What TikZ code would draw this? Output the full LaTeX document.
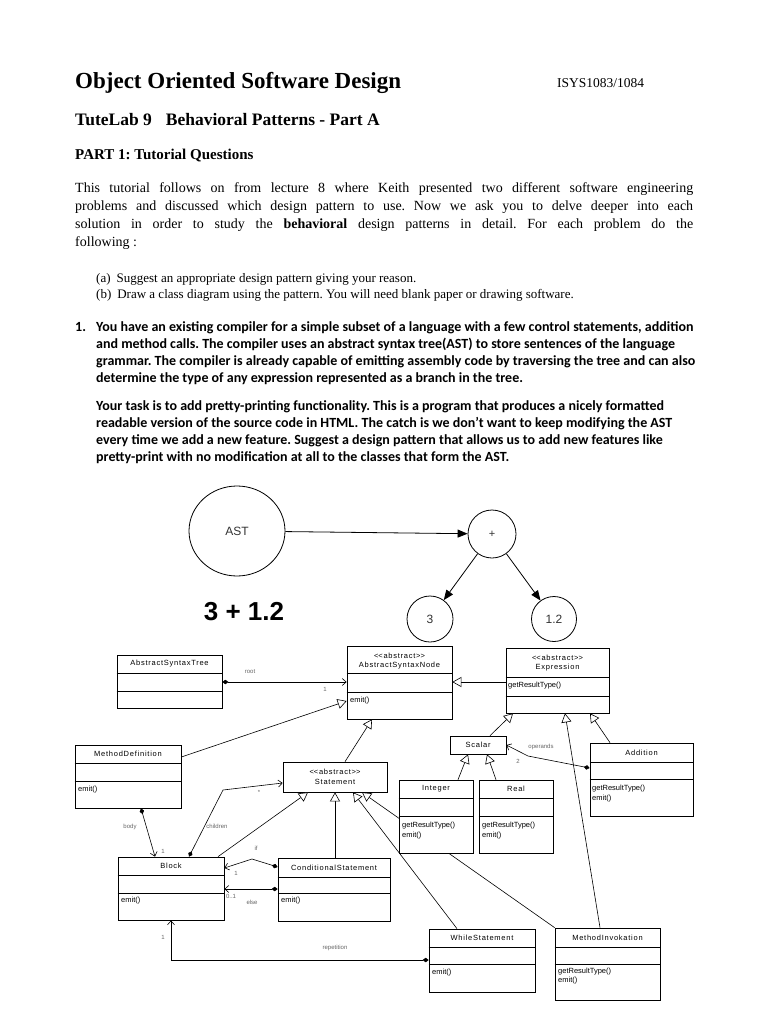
\documentclass[tikz,border=0pt]{standalone}
\usepackage{fontspec}
\setmainfont{Liberation Serif}
\newfontfamily\calfont{Carlito}
\newfontfamily\umlfont{Liberation Sans}
\newfontfamily\umltitlefont[LetterSpace=10]{Liberation Sans}
\usetikzlibrary{arrows.meta,shapes.geometric,calc}
\pgfdeclarelayer{background}
\pgfsetlayers{background,main}
\frenchspacing
\newcommand\umlcls[5]{\node[cls, minimum width={(#4-#2)*1pt}, minimum height={(#5-#3)*1pt}] (#1) at ({(#2+#4)/2},{(#3+#5)/2}) {};}
\newcommand\umldiv[2]{\draw[line width=0.7pt] (#1.west |- 0,#2) -- (#1.east |- 0,#2);}
\begin{document}
\begin{tikzpicture}[x=1pt,y=-1pt,
  cls/.style={draw, fill=white, line width=0.7pt, inner sep=0pt},
  ttl/.style={font=\umltitlefont\fontsize{7.5}{9}\selectfont, inner sep=0pt},
  mem/.style={font=\umlfont\fontsize{7.5}{9.5}\selectfont, inner sep=0pt, anchor=west, align=left},
  lbl/.style={font=\umlfont\fontsize{6}{7}\selectfont, text=black!60, inner sep=0pt},
  gen/.style={line width=0.6pt, -{Triangle[open,length=9pt,width=10pt,fill=white]}},
  compnav/.style={line width=0.6pt, {Diamond[length=6pt,width=4.5pt]}-{Straight Barb[length=4pt,width=7pt]}},
  nav/.style={line width=0.6pt, -{Straight Barb[length=4pt,width=7pt]}},
  tarrow/.style={line width=0.8pt, -{Triangle[length=10pt,width=8pt]}},
  tnode/.style={draw, line width=0.8pt, font=\umlfont\fontsize{12}{14}\selectfont, text=black!80},
  serif/.style={anchor=base west, inner sep=0pt},
  qline/.style={anchor=base west, inner sep=0pt, font=\calfont\bfseries\fontsize{14}{16}\selectfont}
]
\begin{pgfonlayer}{background}
\fill[white] (0,0) rectangle (768,1024);
\end{pgfonlayer}
\useasboundingbox (0,0) rectangle (768,1024);

% ---------- header ----------
\node[serif, font=\bfseries\fontsize{23}{26}\selectfont] (title) at (75,89) {Object Oriented Software Design};
\node[serif, font=\fontsize{13.5}{16}\selectfont] (code) at (557,88) {ISYS1083/1084};
\node[serif, font=\bfseries\fontsize{17.5}{20}\selectfont] (tute) at (75,126) {TuteLab 9\hspace{14pt}Behavioral Patterns - Part A};
\node[serif, font=\bfseries\fontsize{15}{18}\selectfont] (part) at (75,160) {PART 1: Tutorial Questions};

\node[serif, font=\fontsize{14}{17}\selectfont] (p1) at (75,193) {\makebox[618pt][s]{This tutorial follows on from lecture 8 where Keith presented two different software engineering}};
\node[serif, font=\fontsize{14}{17}\selectfont] (p2) at (75,211) {\makebox[618pt][s]{problems and discussed which design pattern to use. Now we ask you to delve deeper into each}};
\node[serif, font=\fontsize{14}{17}\selectfont] (p3) at (75,229) {\makebox[618pt][s]{solution in order to study the \textbf{behavioral} design patterns in detail. For each problem do the}};
\node[serif, font=\fontsize{14}{17}\selectfont] (p4) at (75,247) {following :};

\node[serif, font=\fontsize{13}{15}\selectfont] (ia) at (96,282) {(a)\hspace{6pt}Suggest an appropriate design pattern giving your reason.};
\node[serif, font=\fontsize{13}{15}\selectfont] (ib) at (96,298) {(b)\hspace{6pt}Draw a class diagram using the pattern. You will need blank paper or drawing software.};

\node[qline] (qn) at (75,331) {1.};
\node[qline] (q1) at (96,331) {You have an existing compiler for a simple subset of a language with a few control statements, addition};
\node[qline] (q2) at (96,348) {and method calls. The compiler uses an abstract syntax tree(AST) to store sentences of the language};
\node[qline] (q3) at (96,365) {grammar. The compiler is already capable of emitting assembly code by traversing the tree and can also};
\node[qline] (q4) at (96,382) {determine the type of any expression represented as a branch in the tree.};
\node[qline] (q5) at (96,410) {Your task is to add pretty-printing functionality. This is a program that produces a nicely formatted};
\node[qline] (q6) at (96,427) {readable version of the source code in HTML. The catch is we don’t want to keep modifying the AST};
\node[qline] (q7) at (96,444) {every time we add a new feature. Suggest a design pattern that allows us to add new features like};
\node[qline] (q8) at (96,461) {pretty-print with no modification at all to the classes that form the AST.};

% ---------- tree ----------
\node[tnode, ellipse, minimum width=96pt, minimum height=90pt] (ast) at (237,531) {AST};
\node[tnode, circle, minimum size=48pt, font=\umlfont\fontsize{11}{13}\selectfont] (plus) at (492,534) {+};
\node[tnode, circle, minimum size=46pt] (three) at (430,619) {3};
\node[tnode, circle, minimum size=45pt] (onetwo) at (554,619) {1.2};
\draw[tarrow] (ast) -- (plus);
\draw[tarrow] (plus) -- (three);
\draw[tarrow] (plus) -- (onetwo);
\node[inner sep=0pt, font=\umlfont\bfseries\fontsize{26}{30}\selectfont] (expr3) at (244,612) {3 + 1.2};

% ---------- classes ----------
\umlcls{astree}{117}{655}{222}{708}
\umldiv{astree}{673}\umldiv{astree}{691}
\node[ttl] (astree-t) at (169.5,664) {AbstractSyntaxTree};

\umlcls{asn}{347}{646}{452}{719}
\umldiv{asn}{673}\umldiv{asn}{692}
\node[ttl] (asn-s) at (399.5,655.5) {<\kern0pt<abstract>\kern0pt>};
\node[ttl] (asn-t) at (399.5,665.5) {AbstractSyntaxNode};
\node[mem] (asn-m) at (350,701) {emit()};

\umlcls{expr}{506}{648}{609}{713}
\umldiv{expr}{677}\umldiv{expr}{696}
\node[ttl] (expr-s) at (557.5,657.5) {<\kern0pt<abstract>\kern0pt>};
\node[ttl] (expr-t) at (557.5,668) {Expression};
\node[mem] (expr-m) at (508,685.5) {getResultType()};

\umlcls{md}{75}{745}{181}{808}
\umldiv{md}{763}\umldiv{md}{781}
\node[ttl] (md-t) at (128,754) {MethodDefinition};
\node[mem] (md-m) at (78,790) {emit()};

\umlcls{stmt}{283}{762}{387}{792}
\node[ttl] (stmt-s) at (335,771.5) {<\kern0pt<abstract>\kern0pt>};
\node[ttl] (stmt-t) at (335,782) {Statement};

\umlcls{scalar}{450}{736}{506}{754}
\node[ttl] (scalar-t) at (478,745) {Scalar};

\umlcls{int}{399}{780}{473}{853}
\umldiv{int}{798}\umldiv{int}{816}
\node[ttl] (int-t) at (436,789) {Integer};
\node[mem] (int-m) at (402,830.5) {getResultType()\\emit()};

\umlcls{real}{479}{780}{553}{853}
\umldiv{real}{798}\umldiv{real}{816}
\node[ttl] (real-t) at (516,789) {Real};
\node[mem] (real-m) at (482,830.5) {getResultType()\\emit()};

\umlcls{add}{590}{743}{693}{816}
\umldiv{add}{762}\umldiv{add}{779}
\node[ttl] (add-t) at (641.5,752.5) {Addition};
\node[mem] (add-m) at (592,793.5) {getResultType()\\emit()};

\umlcls{blk}{118}{857}{224}{920}
\umldiv{blk}{875}\umldiv{blk}{893}
\node[ttl] (blk-t) at (171,866) {Block};
\node[mem] (blk-m) at (121,901) {emit()};

\umlcls{cs}{278}{858}{390}{921}
\umldiv{cs}{877}\umldiv{cs}{893}
\node[ttl] (cs-t) at (334,867.5) {ConditionalStatement};
\node[mem] (cs-m) at (281,901) {emit()};

\umlcls{ws}{429}{929}{535}{992}
\umldiv{ws}{947}\umldiv{ws}{964}
\node[ttl] (ws-t) at (482,938) {WhileStatement};
\node[mem] (ws-m) at (432,973) {emit()};

\umlcls{mi}{555}{928}{660}{1000}
\umldiv{mi}{947}\umldiv{mi}{964}
\node[ttl] (mi-t) at (607.5,937.5) {MethodInvokation};
\node[mem] (mi-m) at (558,976) {getResultType()\\emit()};

% ---------- connectors ----------
\begin{pgfonlayer}{background}
\draw[gen] (mi.north west) -- (stmt.south -| 362,0);
\end{pgfonlayer}

\draw[compnav] (astree.east |- 0,682) -- (asn.west |- 0,682);
\node[lbl] (l-root) at (250,672) {root};
\node[lbl] (l-root1) at (325,689) {1};

\draw[gen] (expr.west |- 0,682) -- (asn.east |- 0,682);
\draw[gen] (md.east |- 0,757) -- (asn.west |- 0,701);
\draw[gen] (stmt.north -| 345,0) -- (asn.south -| 372,0);

\draw[gen] (scalar.north -| 490,0) -- (expr.south -| 513,0);
\draw[gen] (int.north -| 458,0) -- (scalar.south -| 468,0);
\draw[gen] (real.north -| 496,0) -- (scalar.south -| 487,0);
\draw[gen] (add.north -| 610,0) -- (expr.south -| 590,0);
\draw[gen] (mi.north -| 600,0) -- (expr.south -| 565,0);

\draw[compnav] (add.west |- 0,768) -- (528,756) -- (scalar.east |- 0,745);
\node[lbl] (l-oper) at (541,747) {operands};
\node[lbl] (l-oper2) at (518,761) {2};

\draw[gen] (blk.north -| 218,0) -- (stmt.south -| 308,0);
\draw[gen] (cs.north -| 335,0) -- (stmt.south -| 335,0);
\draw[gen] (ws.north -| 457,0) -- (stmt.south -| 353,0);

\draw[compnav] (md.south -| 141,0) -- (blk.north -| 155,0);
\node[lbl] (l-body) at (130,827) {body};
\node[lbl] (l-body1) at (163,851) {1};

\draw[compnav] (blk.north -| 189,0) -- (223,790) -- (stmt.west |- 0,783);
\node[lbl] (l-child) at (217,826) {children};
\node[lbl] (l-star) at (259,792) {*};

\draw[compnav] (cs.west |- 0,867) -- (252,859) -- (blk.east |- 0,868);
\node[lbl] (l-if) at (256,848) {if};
\node[lbl] (l-if1) at (236,873) {1};

\draw[compnav] (cs.west |- 0,889) -- (blk.east |- 0,889);
\node[lbl] (l-else01) at (231,896) {0..1};
\node[lbl] (l-else) at (252,902) {else};

\draw[compnav] (ws.west |- 0,960) -- (171,960) -- (blk.south -| 171,0);
\node[lbl] (l-rep1) at (163,937) {1};
\node[lbl] (l-rep) at (335,948) {repetition};
\end{tikzpicture}
\end{document}
